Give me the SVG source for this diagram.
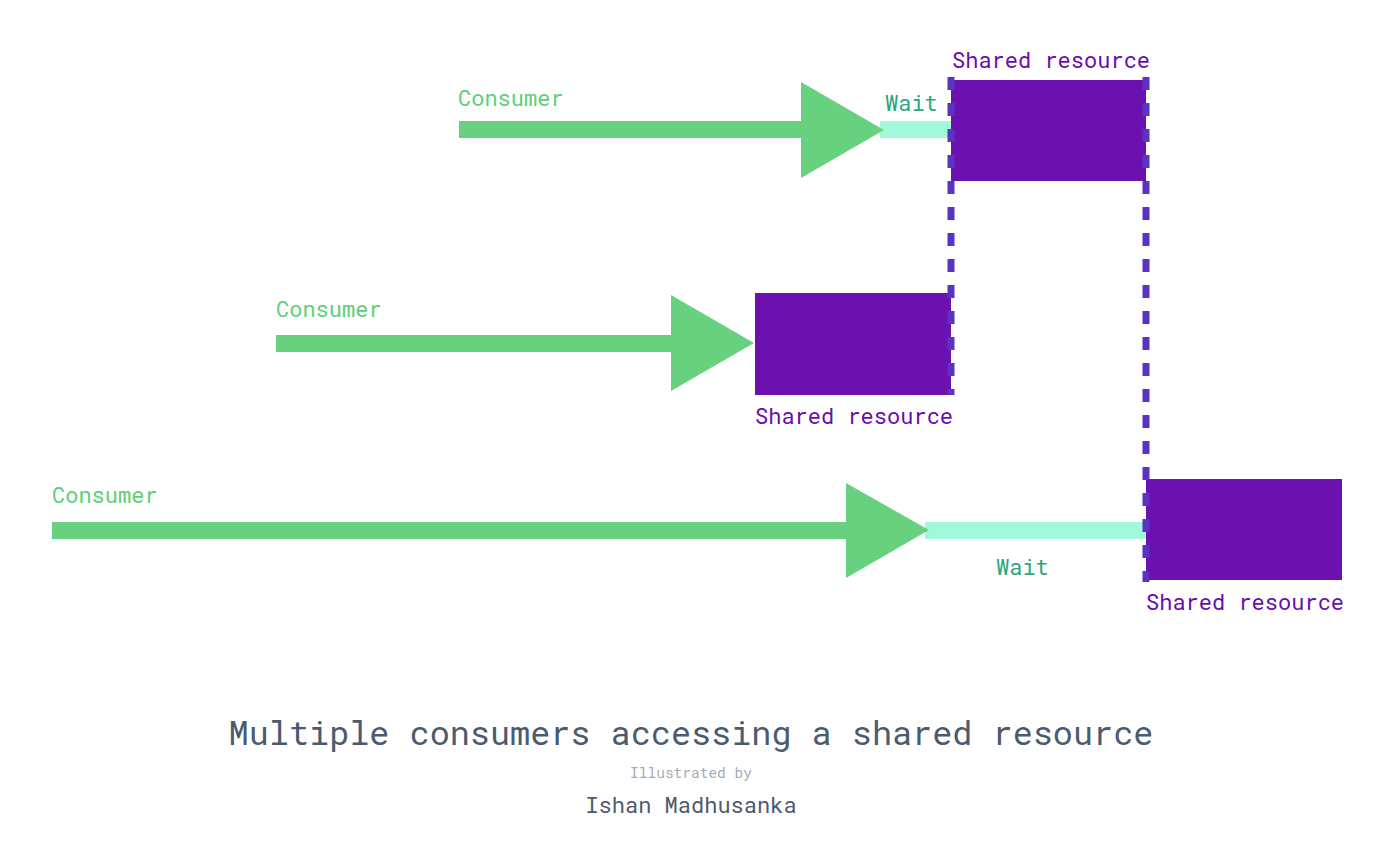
<svg xmlns="http://www.w3.org/2000/svg" width="1400" height="866" viewBox="0 0 1400 866">
<style>
.lbl{font-family:"Roboto Mono","Liberation Mono","DejaVu Sans Mono",monospace;font-size:22px}
.cons{fill:#5ecf78}
.wait{fill:#2ba77c}
.res{fill:#6a0dad}
.shaft{fill:#68d17f}
.head{fill:#68d17f}
.waitbar{fill:#a1f9dc}
.box{fill:#6a11b0}
.dash{stroke:#5b33c2;stroke-width:7;stroke-dasharray:13 13;fill:none}
.title{font-family:"Roboto Mono","Liberation Mono","DejaVu Sans Mono",monospace;fill:#4b5b6f;text-anchor:middle}
</style>
<rect width="1400" height="866" fill="#ffffff"/>
<g id="consumer-top">
<text class="lbl cons" x="458" y="106">Consumer</text>
<rect class="shaft" x="459" y="121" width="345" height="17"/>
<rect class="waitbar" x="880" y="121" width="72" height="17"/>
<polygon class="head" points="801,82 884,130 801,178"/>
<text class="lbl wait" x="885" y="111">Wait</text>
</g>
<g id="resource-top">
<rect class="box" x="951" y="80" width="195" height="101"/>
<text class="lbl res" x="952" y="68">Shared resource</text>
</g>
<g id="consumer-middle">
<text class="lbl cons" x="276" y="317">Consumer</text>
<rect class="shaft" x="276" y="335" width="398" height="17"/>
<polygon class="head" points="671,295 754,343 671,391"/>
</g>
<g id="resource-middle">
<rect class="box" x="755" y="293" width="196" height="102"/>
<text class="lbl res" x="755" y="424">Shared resource</text>
</g>
<g id="consumer-bottom">
<text class="lbl cons" x="52" y="503">Consumer</text>
<rect class="shaft" x="52" y="522" width="796" height="17"/>
<rect class="waitbar" x="925" y="522" width="222" height="17"/>
<polygon class="head" points="846,483 929,530 846,578"/>
<text class="lbl wait" x="996" y="575">Wait</text>
</g>
<g id="resource-bottom">
<rect class="box" x="1146" y="479" width="196" height="101"/>
<text class="lbl res" x="1146" y="610">Shared resource</text>
</g>
<g id="connectors">
<line class="dash" x1="951" y1="77" x2="951" y2="395"/>
<line class="dash" x1="1146" y1="77" x2="1146" y2="582"/>
</g>
<g id="caption">
<text class="title" x="691" y="745" font-size="33.5">Multiple consumers accessing a shared resource</text>
<text class="title" x="691" y="778" font-size="14.5" style="fill:#a3acb7">Illustrated by</text>
<text class="title" x="691" y="813" font-size="22">Ishan Madhusanka</text>
</g>
</svg>
